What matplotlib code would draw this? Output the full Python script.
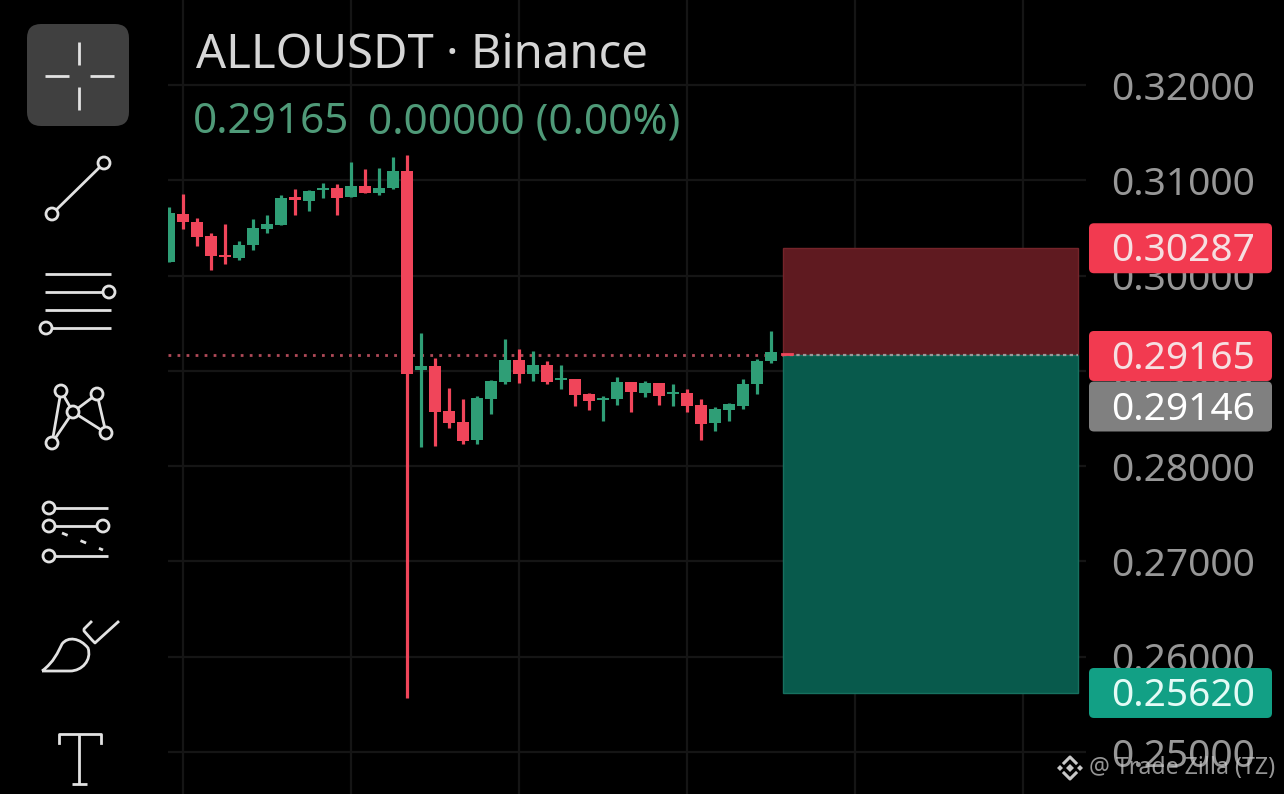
import matplotlib
matplotlib.use('Agg')
import matplotlib.pyplot as plt
from matplotlib.patches import Rectangle, FancyBboxPatch, Circle, PathPatch, Polygon
from matplotlib.path import Path

plt.rcParams['font.family'] = ['Noto Sans', 'DejaVu Sans']

# candles
opens = [0.30140, 0.30646, 0.30567, 0.30412, 0.30216, 0.30185, 0.30318, 0.30493, 0.30528, 0.30829, 0.30787,
         0.30895, 0.30916, 0.30822, 0.30940, 0.30871, 0.30923, 0.31102, 0.29006, 0.29051, 0.28579, 0.28468,
         0.28279, 0.28709, 0.28884, 0.29114, 0.28964, 0.29062, 0.28909, 0.28912, 0.28758, 0.28692, 0.28702,
         0.28880, 0.28772, 0.28870, 0.28754, 0.28768, 0.28642, 0.28457, 0.28594, 0.28632, 0.28859, 0.29104]
highs = [0.30717, 0.30853, 0.30601, 0.30447, 0.30538, 0.30363, 0.30591, 0.30640, 0.30846, 0.30913, 0.30902,
         0.30976, 0.30965, 0.31196, 0.31115, 0.31126, 0.31249, 0.31262, 0.29402, 0.29135, 0.28825, 0.28709,
         0.28737, 0.28901, 0.29332, 0.29234, 0.29209, 0.29104, 0.29062, 0.28919, 0.28772, 0.28741, 0.28940,
         0.28880, 0.28898, 0.28870, 0.28863, 0.28810, 0.28702, 0.28621, 0.28667, 0.28915, 0.29125, 0.29423]
lows = [0.30140, 0.30486, 0.30307, 0.30056, 0.30119, 0.30161, 0.30265, 0.30451, 0.30528, 0.30640, 0.30682,
        0.30818, 0.30640, 0.30822, 0.30871, 0.30843, 0.30906, 0.25565, 0.28206, 0.28212, 0.28405, 0.28230,
        0.28230, 0.28545, 0.28859, 0.28877, 0.28894, 0.28859, 0.28814, 0.28632, 0.28590, 0.28479, 0.28646,
        0.28573, 0.28730, 0.28646, 0.28632, 0.28566, 0.28279, 0.28374, 0.28479, 0.28600, 0.28762, 0.29087]
closes = [0.30654, 0.30562, 0.30402, 0.30203, 0.30192, 0.30325, 0.30504, 0.30538, 0.30814, 0.30797, 0.30885,
          0.30919, 0.30818, 0.30940, 0.30871, 0.30919, 0.31102, 0.28972, 0.29051, 0.28573, 0.28453, 0.28264,
          0.28720, 0.28898, 0.29114, 0.28964, 0.29062, 0.28884, 0.28926, 0.28751, 0.28681, 0.28716, 0.28888,
          0.28775, 0.28877, 0.28741, 0.28775, 0.28636, 0.28447, 0.28597, 0.28653, 0.28867, 0.29104, 0.29198]

price_ticks = [0.25, 0.26, 0.27, 0.28, 0.29, 0.30, 0.31, 0.32]
time_grid = [1, 13, 25, 37, 49, 61]

entry = 0.29165
stop = 0.30287
target = 0.25620
mark = 0.29146

UP = '#2f9e76'
DOWN = '#f0455a'

fig = plt.figure(figsize=(12.84, 7.94), dpi=100, facecolor='black')

# chart, 14 px a candle
ax = fig.add_axes([168 / 1284, 0, (1086 - 168) / 1284, 1], facecolor='black')
ax.set_xlim(-1 / 14, 917 / 14)
ax.set_ylim(0.24560, 0.32892)
ax.set_axisbelow(True)
ax.grid(color='#151515', linewidth=1.6)
ax.set_xticks(time_grid)
ax.set_yticks(price_ticks)
ax.set_yticklabels(['%.5f' % p for p in price_ticks], fontsize=28, color='#979797')
ax.yaxis.tick_right()
ax.tick_params(axis='y', length=0, pad=18)
ax.tick_params(axis='x', length=0, labelbottom=False)
for s in ax.spines.values():
    s.set_visible(False)

for i in range(len(opens)):
    col = UP if closes[i] >= opens[i] else DOWN
    ax.vlines(i, lows[i], highs[i], color=col, linewidth=2.3, zorder=3)
    ax.bar(i, abs(closes[i] - opens[i]), bottom=min(opens[i], closes[i]), width=0.8, color=col, zorder=3)

# long position box
box_l = 43.86
box_r = 64.95
ax.add_patch(Rectangle((box_l, entry), box_r - box_l, stop - entry, facecolor='#5f1a20', edgecolor='#74242a', linewidth=1, zorder=2))
ax.add_patch(Rectangle((box_l, target), box_r - box_l, entry - target, facecolor='#085a4c', edgecolor='#17705f', linewidth=1, zorder=2))
ax.plot([box_l, box_r], [entry, entry], color='#9a9a9a', linewidth=1.6, linestyle=(0, (1.5, 1.5)), zorder=4)
ax.plot([-0.07, box_l], [entry, entry], color='#b04a58', linewidth=2, linestyle=(0, (1, 2.25)), zorder=2.5)
ax.plot([43.8, 44.5], [entry + 0.00012, entry + 0.00012], color=DOWN, linewidth=2, zorder=4)

# overlay in pixels: toolbar, header, price tags
ov = fig.add_axes([0, 0, 1, 1], facecolor='none')
ov.set_xlim(0, 1284)
ov.set_ylim(794, 0)
ov.axis('off')

ICON = '#e2e2e2'


def seg(x0, y0, x1, y1, lw=2.0, **kw):
    ov.plot([x0, x1], [y0, y1], color=ICON, linewidth=lw, solid_capstyle='butt', **kw)


def dot(x, y, r=6):
    ov.add_patch(Circle((x, y), r, facecolor='black', edgecolor=ICON, linewidth=2.0, zorder=5))


def price_y(p):
    return 794 - ax.transData.transform((0, p))[1]


# crosshair button
ov.add_patch(FancyBboxPatch((39, 36), 78, 78, boxstyle='round,pad=12,rounding_size=14', facecolor='#404040', edgecolor='none'))
seg(79, 42, 79, 65)
seg(79, 87, 79, 110)
seg(45, 76, 69, 76)
seg(90, 76, 114, 76)

# trend line
seg(52, 214, 104, 163)
dot(52, 214)
dot(104, 163)

# parallel lines
seg(45, 274, 111, 274)
seg(45, 292, 105, 292)
seg(45, 310, 111, 310)
seg(50, 328, 111, 328)
dot(109, 292)
dot(46, 328)

# pattern
pts = {'a': (61, 391), 'b': (97, 394), 'c': (73, 412), 'd': (106, 433), 'e': (52, 443)}
for u, v in ['ea', 'ac', 'ec', 'cb', 'bd', 'cd']:
    seg(pts[u][0], pts[u][1], pts[v][0], pts[v][1])
for k in pts:
    dot(pts[k][0], pts[k][1])

# fib tool
seg(52, 508, 108, 508)
seg(52, 526, 100, 526)
seg(52, 556, 108, 556)
ov.plot([62, 103], [533, 550], color=ICON, linewidth=2, linestyle=(0, (2.2, 5)))
dot(49, 508)
dot(49, 526)
dot(103, 526)
dot(49, 556)

# brush
leaf = [(42, 671), (54, 662), (58, 652), (62, 644), (68, 636), (80, 638), (88, 648), (92, 660), (82, 671), (70, 671), (60, 671), (50, 671), (42, 671)]
codes = [Path.MOVETO] + [Path.CURVE4] * 12
ov.add_patch(PathPatch(Path(leaf, codes), facecolor='none', edgecolor=ICON, linewidth=2.0))
hook = [(91, 622), (84, 629), (84, 631), (92, 640), (95, 643), (96, 642), (118, 622)]
ov.plot([h[0] for h in hook], [h[1] for h in hook], color=ICON, linewidth=2.0)

# text tool
ov.plot([59, 59, 101, 101], [743, 734, 734, 743], color=ICON, linewidth=2.0)
seg(79, 734, 79, 784)
seg(72, 784, 87, 784)

# header
ov.text(196, 68, 'ALLOUSDT · Binance', fontsize=34, color='#d6d6d6', ha='left', va='baseline')
ov.text(193, 133, '0.29165', fontsize=30.4, color='#4f9a78', ha='left', va='baseline')
ov.text(368, 133, '0.00000 (0.00%)', fontsize=30.4, color='#4f9a78', ha='left', va='baseline')

# price tags
tags = [(stop, '0.30287', '#f23a50', '#f6dfe1'), (entry, '0.29165', '#f23a50', '#f6dfe1'),
        (mark, '0.29146', '#808080', '#ffffff'), (target, '0.25620', '#12a085', '#e4fbf6')]
for p, label, bg, fg in tags:
    yc = price_y(p)
    if p == mark:
        yc = 406.5
    elif p == entry:
        yc = 356
    ov.add_patch(FancyBboxPatch((1093, yc - 21), 175, 42, boxstyle='round,pad=4,rounding_size=5', facecolor=bg, edgecolor='none', zorder=6))
    ov.text(1183, yc + 3, label, fontsize=28, color=fg, ha='center', va='center', zorder=7)

# watermark
wm = '#c8c8c8'
for cx, cy, r in [(1070, 768, 4), (1060, 768, 3), (1080, 768, 3)]:
    ov.add_patch(Polygon([(cx, cy - r), (cx + r, cy), (cx, cy + r), (cx - r, cy)], facecolor=wm, edgecolor='none', zorder=8))
ov.plot([1064, 1070, 1076], [763, 757, 763], color=wm, linewidth=2.2, zorder=8)
ov.plot([1064, 1070, 1076], [773, 779, 773], color=wm, linewidth=2.2, zorder=8)
ov.text(1089, 768, '@ Trade Zilla (TZ)', fontsize=16.7, color='#c8c8c8', alpha=0.75, ha='left', va='center', zorder=8)

fig.savefig('out.png', dpi=100, facecolor='black')
